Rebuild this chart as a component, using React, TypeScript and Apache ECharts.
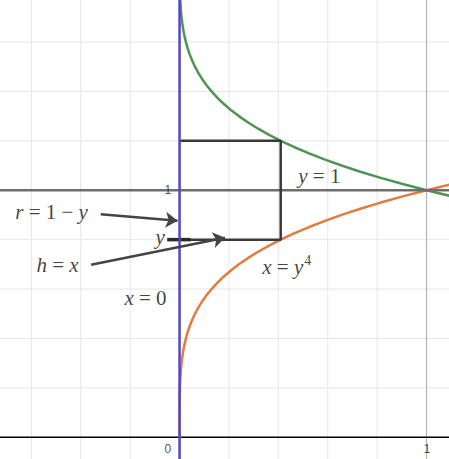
import { useEffect, useRef } from "react";
import * as echarts from "echarts";

// visible window in data units
const xLimits = [-0.727, 1.091];
const yLimits = [-0.088, 1.77];

// grid: light lines every 0.2, darker major line at x = 1
const minorGridX = [-0.6, -0.4, -0.2, 0.2, 0.4, 0.6, 0.8];
const minorGridY = [0.2, 0.4, 0.6, 0.8, 1.2, 1.4, 1.6];
const majorGridX = [1];

// heights sampled along the curve x = y^4 (green one is its mirror about y = 1)
const curveY = [
  0, 0.025, 0.05, 0.075, 0.1, 0.125, 0.15, 0.175, 0.2, 0.225, 0.25, 0.275,
  0.3, 0.325, 0.35, 0.375, 0.4, 0.425, 0.45, 0.475, 0.5, 0.525, 0.55, 0.575,
  0.6, 0.625, 0.65, 0.675, 0.7, 0.725, 0.75, 0.775, 0.8, 0.825, 0.85, 0.875,
  0.9, 0.925, 0.95, 0.975, 1, 1.025, 1.05, 1.075,
];

// the shell: y from 0.8 up to 1.2, reaching out to x = 0.8^4
const shellY = [0.8, 1.2];
const shellX = [0, 0.4096];

// arrows [tail, tip]
const arrowR = [[-0.319, 0.903], [-0.008, 0.876]];
const arrowH = [[-0.358, 0.698], [0.184, 0.808]];

// tick labels
const tickLabels = [
  { text: "0", at: [-0.047, -0.047] },
  { text: "1", at: [1.002, -0.047] },
  { text: "1", at: [-0.047, 0.999] },
];

// LaTeX-ish annotations
const mathLabels = [
  { text: "{i|y} = 1", at: [0.566, 1.056] },
  { text: "{i|x} = {i|y}{s|4}", at: [0.434, 0.69] },
  { text: "{i|x} = 0", at: [-0.138, 0.565] },
  { text: "{i|r} = 1 − {i|y}", at: [-0.518, 0.91] },
  { text: "{i|h} = {i|x}", at: [-0.494, 0.697] },
  { text: "{i|y}", at: [-0.079, 0.81] },
];

const serif = "Liberation Serif";

export default function App() {
  const chartRef = useRef<HTMLDivElement>(null);

  useEffect(() => {
    document.body.style.margin = "0";
    if (!chartRef.current) return;
    const chart = echarts.init(chartRef.current, null, { renderer: "svg" });

    const vLine = (x: number) => [[x, yLimits[0]], [x, yLimits[1]]];
    const hLine = (y: number) => [[xLimits[0], y], [xLimits[1], y]];
    const plain = (data: number[][], color: string, width: number, z = 2) => ({
      type: "line",
      data,
      symbol: "none",
      silent: true,
      z,
      lineStyle: { color, width, cap: "butt" },
    });

    const series: any[] = [
      ...minorGridX.map((x) => plain(vLine(x), "#e6e6e6", 1, 1)),
      ...minorGridY.map((y) => plain(hLine(y), "#e6e6e6", 1, 1)),
      ...majorGridX.map((x) => plain(vLine(x), "#b3b3b3", 1.2, 1)),
      plain(hLine(0), "#000", 1.5, 1),
      // x = y^4
      plain(curveY.map((y) => [y ** 4, y]), "#e07c3e", 2.5),
      // mirror about y = 1
      plain(curveY.map((y) => [y ** 4, 2 - y]), "#4e9555", 2.5),
      plain(hLine(1), "#6e6e6e", 2.5, 3),
      plain(
        [[shellX[0], shellY[1]], [shellX[1], shellY[1]], [shellX[1], shellY[0]], [shellX[0], shellY[0]]],
        "#3a3a3a",
        2.5,
        4
      ),
      plain([[-0.05, shellY[0]], [0.045, shellY[0]]], "#2a2a2a", 3.5, 4),
      plain(vLine(0), "#5247c6", 2.5, 5),
      {
        type: "lines",
        coordinateSystem: "cartesian2d",
        silent: true,
        z: 6,
        symbol: ["none", "arrow"],
        symbolSize: 12,
        lineStyle: { color: "#444", width: 2.5, opacity: 1, curveness: 0 },
        data: [{ coords: arrowR }, { coords: arrowH }],
      },
      {
        type: "scatter",
        symbolSize: 0,
        silent: true,
        z: 7,
        data: tickLabels.map((t) => ({ value: t.at, name: t.text })),
        label: {
          show: true,
          position: "inside",
          formatter: "{b}",
          fontFamily: "Liberation Sans",
          fontSize: 12,
          color: "#222",
        },
      },
      {
        type: "scatter",
        symbolSize: 0,
        silent: true,
        z: 7,
        data: mathLabels.map((t) => ({ value: t.at, name: t.text })),
        label: {
          show: true,
          position: "inside",
          formatter: (p: any) => p.name,
          fontFamily: serif,
          fontSize: 21,
          color: "#111",
          rich: {
            i: { fontFamily: serif, fontStyle: "italic", fontSize: 21, color: "#111" },
            s: { fontFamily: serif, fontSize: 14, color: "#111", padding: [0, 0, 12, 1] },
          },
        },
      },
    ];

    chart.setOption({
      animation: false,
      backgroundColor: "#fff",
      grid: { left: 0, right: 0, top: 0, bottom: 0 },
      xAxis: { type: "value", min: xLimits[0], max: xLimits[1], show: false },
      yAxis: { type: "value", min: yLimits[0], max: yLimits[1], show: false },
      series,
    });

    return () => chart.dispose();
  }, []);

  return <div ref={chartRef} style={{ width: 449, height: 459 }} />;
}
